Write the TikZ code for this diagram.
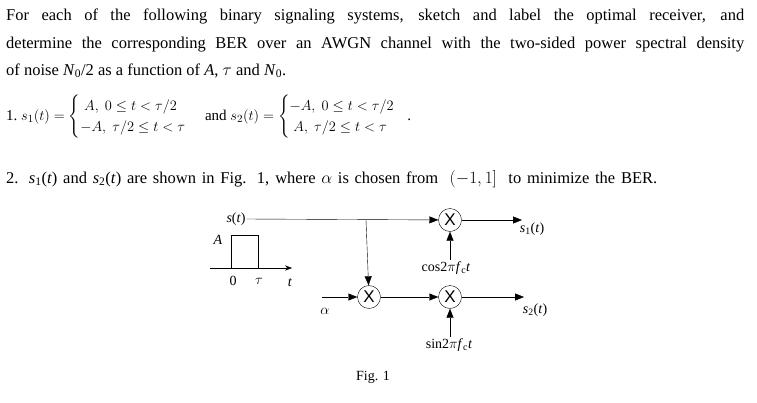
\documentclass[tikz,border=0pt]{standalone}
\usepackage{amsmath}
\usepackage{fontspec}
\setmainfont{Liberation Serif}
\newfontfamily\arialf{Liberation Sans}
\usetikzlibrary{arrows.meta}
\begin{document}
\begin{tikzpicture}[x=1pt,y=-1pt,
  mult/.style={circle,draw,inner sep=0pt,minimum size=23pt,font=\arialf\fontsize{17}{18}\selectfont},
  arr/.style={-{Triangle[length=9pt,width=7pt]}},
  tx/.style={inner sep=0pt,anchor=base west,font=\fontsize{16.5}{18}\selectfont},
  sm/.style={inner sep=1pt,font=\fontsize{14}{16}\selectfont}]
\useasboundingbox (0,0) rectangle (757,402);
\node[tx] (l1) at (6,20) {\makebox[738pt][s]{For each of the following binary signaling systems, sketch and label the optimal receiver, and}};
\node[tx] (l2) at (6,48) {\makebox[738pt][s]{determine the corresponding BER over an AWGN channel with the two-sided power spectral density}};
\node[tx] (l3) at (6,75) {of noise \textit{N}\textsubscript{0}/2 as a function of \textit{A}, $\tau$ and \textit{N}\textsubscript{0}.};
\node[tx,anchor=west,font=\fontsize{15}{17}\selectfont] (eq) at (6,117) {1.\ $s_1(t)=\begin{cases}\ A,\ 0\le t<\tau/2\\ -A,\ \tau/2\le t<\tau\end{cases}$\ and\ $s_2(t)=\begin{cases}-A,\ 0\le t<\tau/2\\ \ A,\ \tau/2\le t<\tau\end{cases}$\!.};
\node[tx] (l4) at (6,183) {\makebox[651pt][s]{2. \textit{s}\textsubscript{1}(\textit{t}) and \textit{s}\textsubscript{2}(\textit{t}) are shown in Fig. 1, where $\alpha$ is chosen from\ \ $(-1,1]$\ \ to minimize the BER.}};
% diagram
\node[sm] (st) at (236,219) {\textit{s}(\textit{t})};
\node[mult] (m1) at (450,220) {X};
\node[mult] (m3) at (369,297) {X};
\node[mult] (m2) at (450,297) {X};
\coordinate (br) at (366,220);
\draw[arr] (st.east) -- (m1);
\draw[arr] (br) -- (m3);
\node[sm] (al) at (325,311) {$\alpha$};
\coordinate (ain) at (322,297);
\draw[arr] (ain) -- (m3);
\draw[arr] (m3) -- (m2);
\coordinate (o1) at (522,220);
\coordinate (o2) at (524,297);
\draw[arr] (m1) -- (o1);
\draw[arr] (m2) -- (o2);
\node[sm] (s1) at (532,229) {\textit{s}\textsubscript{1}(\textit{t})};
\node[sm] (s2) at (535,310) {\textit{s}\textsubscript{2}(\textit{t})};
\node[sm] (cs) at (446,268) {cos2$\pi$\textit{f}\textsubscript{c}\textit{t}};
\node[sm] (sn) at (449,345) {sin2$\pi$\textit{f}\textsubscript{c}\textit{t}};
\draw[arr] (cs.north -| m1) -- (m1);
\draw[arr] (sn.north -| m2) -- (m2);
% pulse
\coordinate (ax0) at (210,268);
\coordinate (ax1) at (292,268);
\draw[-{Stealth[length=7pt]}] (ax0) -- (ax1);
\draw (231,268) -- (231,235) -- (258,235) -- (258,268);
\node[sm] (A) at (218,240) {\textit{A}};
\node[sm] (z) at (233,281) {0};
\node[sm] (ta) at (259,281) {$\tau$};
\node[sm] (t) at (290,283) {\textit{t}};
\node[sm] (fig) at (373,377) {Fig. 1};
\end{tikzpicture}
\end{document}
